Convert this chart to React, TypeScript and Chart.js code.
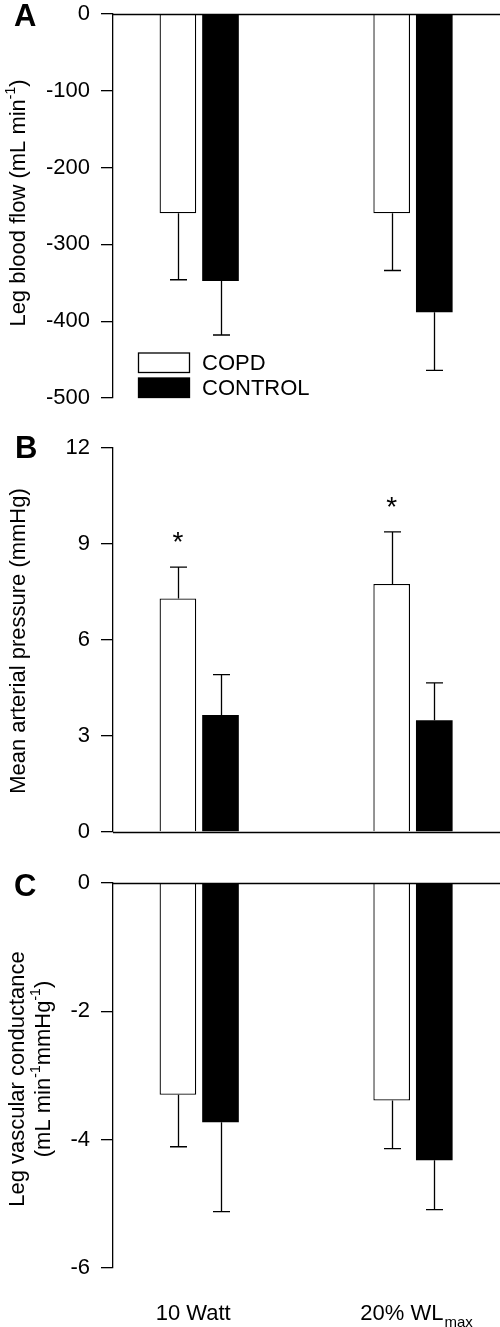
import React, { useEffect, useRef } from "react";
import { Chart, registerables } from "chart.js";

Chart.register(...registerables);

const FONT = '"Liberation Sans", Arial, Helvetica, sans-serif';

// Exercise intensities (x categories) and optional subscripts on their labels
const categories = ["10 Watt", "20% WL"];
const categorySubscripts = ["", "max"];
const seriesNames = ["COPD", "CONTROL"];

// A: change in leg blood flow (mL/min), mean and SE
const flowCopd = [-259.5, -259.5];
const flowCopdErr = [86.5, 74.5];
const flowControl = [-347.7, -388.5];
const flowControlErr = [70.3, 75.5];
const flowTicks = [-500, -400, -300, -200, -100, 0];

// B: change in mean arterial pressure (mmHg), mean and SE
const mapCopd = [7.3, 7.75];
const mapCopdErr = [0.98, 1.63];
const mapControl = [3.66, 3.49];
const mapControlErr = [1.26, 1.17];
const mapTicks = [0, 3, 6, 9, 12];
const mapSignificant = [true, true];

// C: change in leg vascular conductance, mean and SE
const condCopd = [-3.3, -3.39];
const condCopdErr = [0.81, 0.75];
const condControl = [-3.73, -4.32];
const condControlErr = [1.39, 0.77];
const condTicks = [-6, -4, -2, 0];

type Seg = { text: string; sup?: boolean };

type PanelSpec = {
  letter: string;
  letterX: number;
  letterBaseline: number;
  copd: number[];
  copdErr: number[];
  control: number[];
  controlErr: number[];
  ticks: number[];
  titleLines: { segs: Seg[]; baselineX: number; centerY: number }[];
  padTop: number;
  padBottom: number;
  height: number;
  top: number;
  legend?: boolean;
  significant?: boolean[];
  xLabels?: boolean;
};

const X_MIN = -0.4032;
const X_MAX = 1.407;
const TEXT = "#000";
const LINE_W = 1.3;
// small horizontal shifts of the category labels under the bottom panel
const LABEL_NUDGE = [-6, 3];

function drawRotated(ctx: CanvasRenderingContext2D, segs: Seg[], baselineX: number, centerY: number) {
  const size = 22;
  const supSize = 14;
  ctx.save();
  ctx.translate(baselineX, centerY);
  ctx.rotate(-Math.PI / 2);
  ctx.fillStyle = TEXT;
  ctx.textBaseline = "alphabetic";
  ctx.textAlign = "left";
  const widths = segs.map((s) => {
    ctx.font = `${s.sup ? supSize : size}px ${FONT}`;
    return ctx.measureText(s.text).width;
  });
  const total = widths.reduce((a, b) => a + b, 0);
  let x = -total / 2;
  segs.forEach((s, i) => {
    ctx.font = `${s.sup ? supSize : size}px ${FONT}`;
    ctx.fillText(s.text, x, s.sup ? -10 : 0);
    x += widths[i];
  });
  ctx.restore();
}

function panelPlugin(p: PanelSpec) {
  return {
    id: "panelDecor" + p.letter,
    afterDatasetsDraw(chart: any) {
      const ctx: CanvasRenderingContext2D = chart.ctx;
      const y = chart.scales.y;
      const xs = chart.scales.x;
      const area = chart.chartArea;
      ctx.save();

      // zero line
      const y0 = Math.round(y.getPixelForValue(0)) + 0.5;
      ctx.strokeStyle = "#000";
      ctx.lineWidth = LINE_W;
      ctx.beginPath();
      ctx.moveTo(area.left, y0);
      ctx.lineTo(area.right, y0);
      ctx.stroke();

      // one-sided error bars
      const values = [p.copd, p.control];
      const errs = [p.copdErr, p.controlErr];
      const errEnds: number[][] = [[], []];
      for (let d = 0; d < 2; d++) {
        const meta = chart.getDatasetMeta(d);
        meta.data.forEach((bar: any, i: number) => {
          const v = values[d][i];
          const end = v + Math.sign(v) * errs[d][i];
          const ys = y.getPixelForValue(v);
          const ye = y.getPixelForValue(end);
          errEnds[d][i] = ye;
          const bx = Math.round(bar.x) + 0.5;
          ctx.lineWidth = LINE_W;
          ctx.beginPath();
          ctx.moveTo(bx, ys);
          ctx.lineTo(bx, ye);
          ctx.moveTo(bx - 8.5, ye);
          ctx.lineTo(bx + 8.5, ye);
          ctx.stroke();
        });
      }

      // significance markers over COPD bars
      if (p.significant) {
        const meta = chart.getDatasetMeta(0);
        ctx.font = `28px ${FONT}`;
        ctx.fillStyle = TEXT;
        ctx.textAlign = "center";
        ctx.textBaseline = "alphabetic";
        const m = ctx.measureText("*");
        const mid = (m.actualBoundingBoxAscent - m.actualBoundingBoxDescent) / 2;
        p.significant.forEach((sig, i) => {
          if (!sig) return;
          const bar = meta.data[i];
          ctx.fillText("*", bar.x, errEnds[0][i] - 30 + mid);
        });
      }

      // legend
      if (p.legend) {
        chart.data.datasets.forEach((ds: any, i: number) => {
          const bx = 138.5;
          const by = 353 + i * 25;
          ctx.fillStyle = ds.backgroundColor;
          ctx.fillRect(bx, by, 51, 19.5);
          ctx.strokeStyle = "#000";
          ctx.lineWidth = LINE_W;
          ctx.strokeRect(bx, by, 51, 19.5);
          ctx.fillStyle = TEXT;
          ctx.font = `22px ${FONT}`;
          ctx.textAlign = "left";
          ctx.textBaseline = "middle";
          ctx.fillText(ds.label, 202, by + 10.5);
        });
      }

      // category labels
      if (p.xLabels) {
        categories.forEach((label, i) => {
          const cx = xs.getPixelForValue(i) + LABEL_NUDGE[i];
          ctx.font = `22px ${FONT}`;
          const w1 = ctx.measureText(label).width;
          const sub = categorySubscripts[i];
          ctx.font = `15px ${FONT}`;
          const w2 = sub ? ctx.measureText(sub).width : 0;
          const start = cx - (w1 + w2) / 2;
          ctx.fillStyle = TEXT;
          ctx.textAlign = "left";
          ctx.textBaseline = "alphabetic";
          ctx.font = `22px ${FONT}`;
          ctx.fillText(label, start, 480);
          if (sub) {
            ctx.font = `15px ${FONT}`;
            ctx.fillText(sub, start + w1 + 1, 486.5);
          }
        });
      }

      // panel letter
      ctx.font = `bold 31px ${FONT}`;
      ctx.fillStyle = TEXT;
      ctx.textAlign = "left";
      ctx.textBaseline = "alphabetic";
      ctx.fillText(p.letter, p.letterX, p.letterBaseline);

      // y-axis title
      p.titleLines.forEach((l) => drawRotated(ctx, l.segs, l.baselineX, l.centerY));

      ctx.restore();
    },
  };
}

function buildConfig(p: PanelSpec): any {
  const mk = (vals: number[]) => vals.map((v, i) => ({ x: i, y: v }));
  return {
    type: "bar",
    data: {
      datasets: [
        {
          label: seriesNames[0],
          data: mk(p.copd),
          backgroundColor: "#ffffff",
          borderColor: "#000000",
          borderWidth: LINE_W,
        },
        {
          label: seriesNames[1],
          data: mk(p.control),
          backgroundColor: "#000000",
          borderColor: "#000000",
          borderWidth: 0,
        },
      ],
    },
    options: {
      responsive: false,
      animation: false,
      devicePixelRatio: 1,
      datasets: { bar: { categoryPercentage: 0.3986, barPercentage: 0.86 } },
      layout: { padding: { top: p.padTop, bottom: p.padBottom, left: 0, right: 0 } },
      plugins: { legend: { display: false }, tooltip: { enabled: false } },
      scales: {
        x: {
          type: "linear",
          display: false,
          offset: false,
          min: X_MIN,
          max: X_MAX,
          afterBuildTicks: (s: any) => {
            s.ticks = categories.map((_, i) => ({ value: i }));
          },
        },
        y: {
          type: "linear",
          min: Math.min(...p.ticks),
          max: Math.max(...p.ticks),
          afterBuildTicks: (s: any) => {
            s.ticks = p.ticks.map((v) => ({ value: v }));
          },
          afterFit: (s: any) => {
            s.width = 113;
            s.paddingTop = 0;
            s.paddingBottom = 0;
          },
          grid: {
            display: true,
            drawOnChartArea: false,
            drawTicks: true,
            tickLength: 12,
            color: "#000",
            lineWidth: LINE_W,
          },
          border: { display: true, color: "#000", width: LINE_W },
          ticks: {
            color: TEXT,
            font: { family: FONT, size: 22 },
            padding: 11,
            autoSkip: false,
          },
        },
      },
    },
    plugins: [panelPlugin(p)],
  };
}

const panels: PanelSpec[] = [
  {
    letter: "A",
    letterX: 14,
    letterBaseline: 26,
    copd: flowCopd,
    copdErr: flowCopdErr,
    control: flowControl,
    controlErr: flowControlErr,
    ticks: flowTicks,
    titleLines: [
      {
        segs: [{ text: "Leg blood flow (mL min" }, { text: "-1", sup: true }, { text: ")" }],
        baselineX: 25,
        centerY: 203,
      },
    ],
    padTop: 14,
    padBottom: 22,
    height: 420,
    top: 0,
    legend: true,
  },
  {
    letter: "B",
    letterX: 15,
    letterBaseline: 38,
    copd: mapCopd,
    copdErr: mapCopdErr,
    control: mapControl,
    controlErr: mapControlErr,
    ticks: mapTicks,
    titleLines: [
      { segs: [{ text: "Mean arterial pressure (mmHg)" }], baselineX: 25, centerY: 221 },
    ],
    padTop: 28,
    padBottom: 8,
    height: 420,
    top: 420,
    significant: mapSignificant,
  },
  {
    letter: "C",
    letterX: 14,
    letterBaseline: 56,
    copd: condCopd,
    copdErr: condCopdErr,
    control: condControl,
    controlErr: condControlErr,
    ticks: condTicks,
    titleLines: [
      { segs: [{ text: "Leg vascular conductance" }], baselineX: 24, centerY: 239 },
      {
        segs: [
          { text: "(mL min" },
          { text: "-1", sup: true },
          { text: "mmHg" },
          { text: "-1", sup: true },
          { text: ")" },
        ],
        baselineX: 50,
        centerY: 229,
      },
    ],
    padTop: 43,
    padBottom: 59,
    height: 487,
    top: 840,
    xLabels: true,
  },
];

function Panel({ spec }: { spec: PanelSpec }) {
  const ref = useRef<HTMLCanvasElement>(null);
  useEffect(() => {
    const chart = new Chart(ref.current as HTMLCanvasElement, buildConfig(spec));
    return () => chart.destroy();
  }, [spec]);
  return (
    <canvas
      ref={ref}
      width={500}
      height={spec.height}
      style={{ position: "absolute", left: 0, top: spec.top, width: 500, height: spec.height, display: "block" }}
    />
  );
}

export default function App() {
  return (
    <div
      style={{
        position: "absolute",
        left: 0,
        top: 0,
        width: 500,
        height: 1327,
        background: "#fff",
        overflow: "hidden",
      }}
    >
      {panels.map((p) => (
        <Panel key={p.letter} spec={p} />
      ))}
    </div>
  );
}
